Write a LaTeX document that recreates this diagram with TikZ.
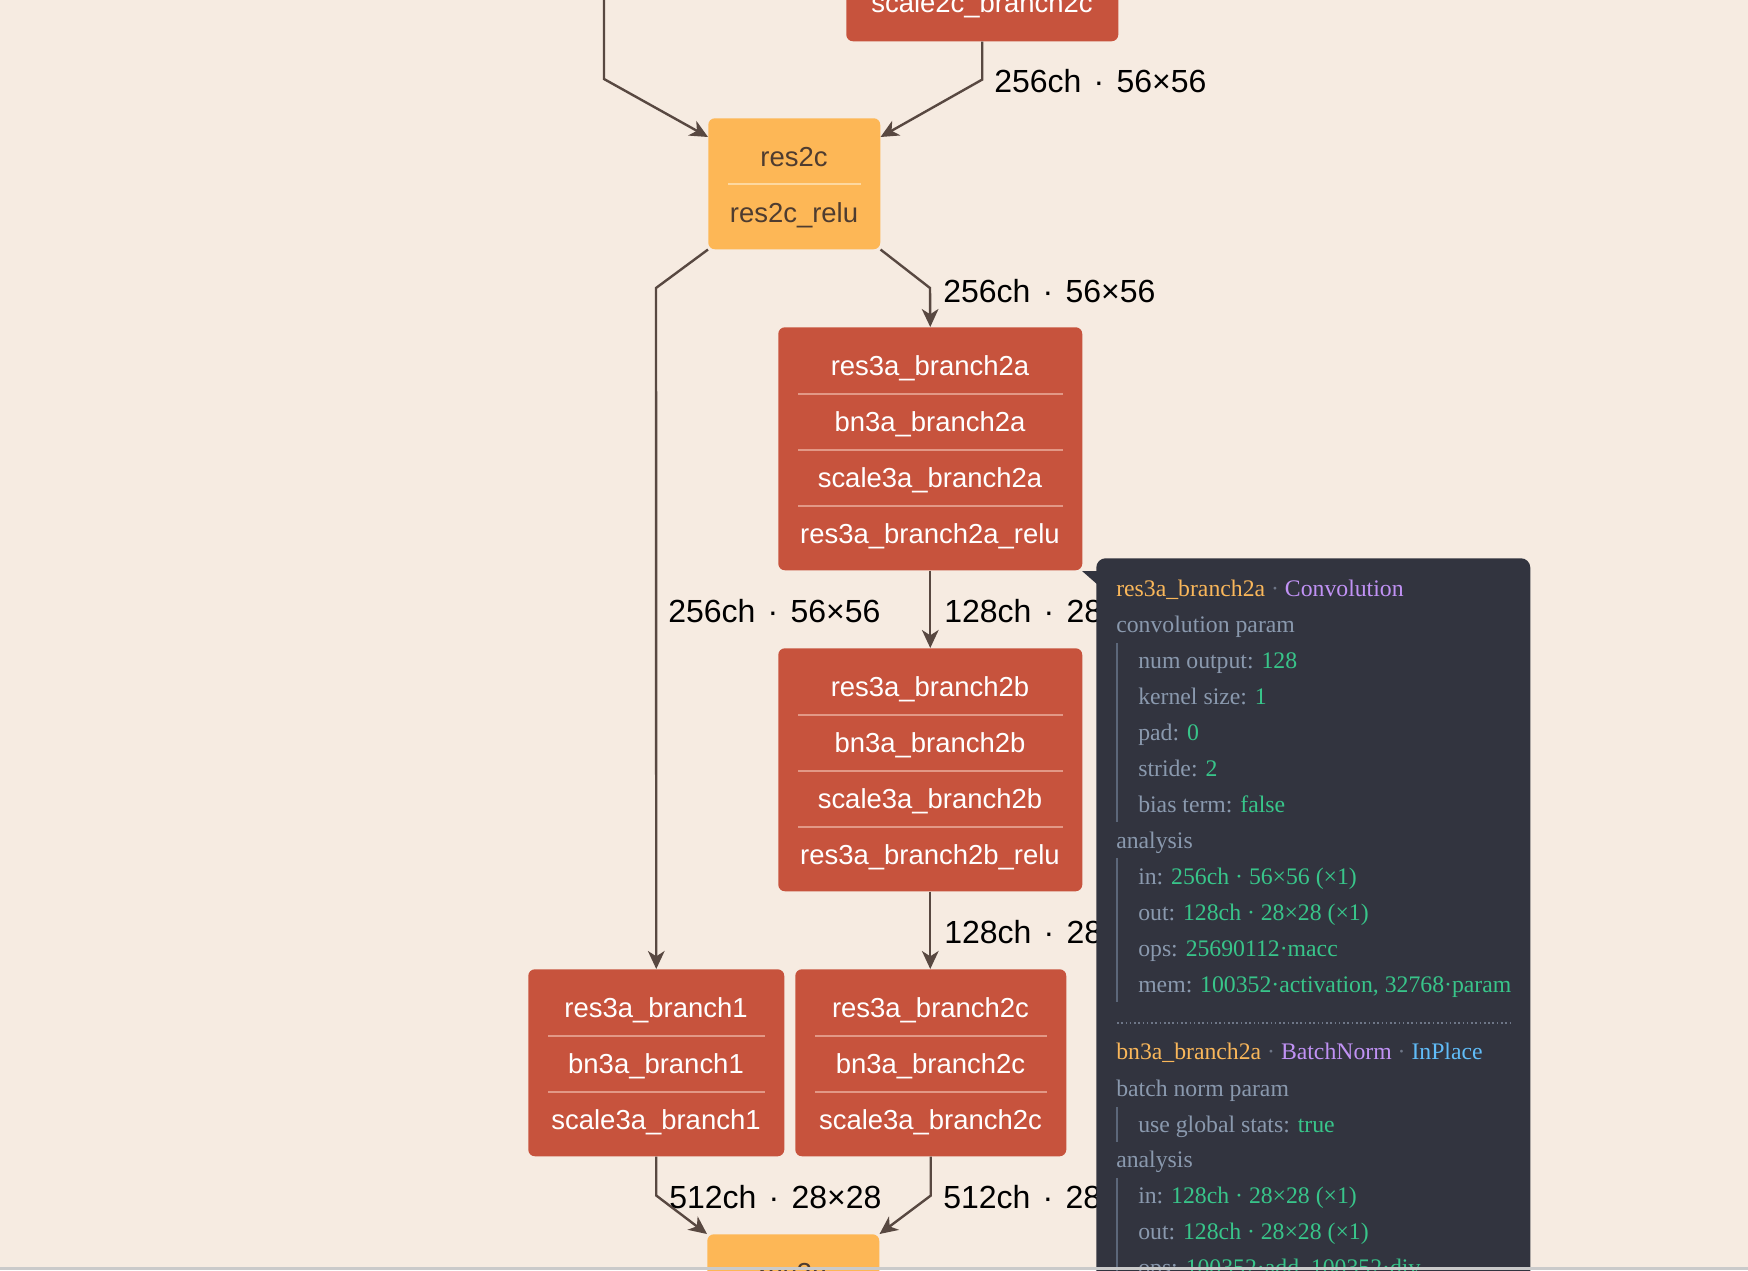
\documentclass[tikz,border=0pt]{standalone}
\usepackage{fontspec}
\setmainfont{Liberation Serif}
\newfontfamily\nodefont{Liberation Sans}
\usetikzlibrary{arrows.meta,calc}
\definecolor{bgc}{RGB}{246,235,225}
\definecolor{boxred}{RGB}{199,83,61}
\definecolor{boxorange}{RGB}{253,183,86}
\definecolor{sepred}{RGB}{226,152,134}
\definecolor{seporange}{RGB}{253,216,160}
\definecolor{orangetext}{RGB}{78,60,48}
\definecolor{connc}{RGB}{88,72,65}
\definecolor{ttbg}{RGB}{50,52,63}
\definecolor{ttgray}{RGB}{138,153,174}
\definecolor{ttgreen}{RGB}{56,197,138}
\definecolor{ttorange}{RGB}{250,183,90}
\definecolor{ttpurple}{RGB}{193,146,245}
\definecolor{ttblue}{RGB}{96,188,248}
\definecolor{ttdot}{RGB}{110,118,135}
\definecolor{ttbar}{RGB}{92,103,122}
\definecolor{bottombar}{RGB}{202,202,202}
\newcommand{\lsep}{\kern2.5pt\ ·\ \kern2.5pt}
\newcommand{\tdot}{{\color{ttdot}\ ·\ }}
\begin{document}
\begin{tikzpicture}[x=0.75pt,y=-0.75pt,
  redbox/.style={fill=boxred, draw=none, rounded corners=5pt, inner sep=0pt, anchor=north west},
  orangebox/.style={fill=boxorange, draw=none, rounded corners=5pt, inner sep=0pt, anchor=north west},
  redtxt/.style={text=white, inner sep=0pt, anchor=base, font=\nodefont\fontsize{20.6pt}{24pt}\selectfont},
  orangetxt/.style={text=orangetext, inner sep=0pt, anchor=base, font=\nodefont\fontsize{20.6pt}{24pt}\selectfont},
  sepr/.style={draw=sepred, line width=1.1pt},
  sepo/.style={draw=seporange, line width=1.1pt},
  conn/.style={draw=connc, line width=1.8pt, line join=miter, -{Stealth[length=13.5pt,width=12.5pt,inset=4pt]}},
  lbl/.style={text=black, inner sep=0pt, anchor=base west, font=\nodefont\fontsize{24pt}{28pt}\selectfont},
  tt/.style={text=ttgray, inner sep=0pt, anchor=base west, font=\fontsize{17.8pt}{22pt}\selectfont},
  ttbarline/.style={draw=ttbar, line width=1.5pt}
]
\useasboundingbox (0,0) rectangle (1748,1270);
\clip (0,0) rectangle (1748,1270);
\fill[bgc] (0,0) rectangle (1748,1270);

% ---- boxes ----
\node[redbox, minimum width=204pt, minimum height=140.25pt] (s2c) at (846,-146) {};
\node[redtxt] (s2ct) at (982,13) {scale2c\_branch2c};

\node[orangebox, minimum width=129pt, minimum height=98.25pt] (res2c) at (708,118) {};
\node[orangetxt] (res2ct1) at (794,166) {res2c};
\node[orangetxt] (res2ct2) at (794,222) {res2c\_relu};
\draw[sepo] ($(res2c.north west)+(20,66)$) -- ($(res2c.north east)+(-20,66)$);

\node[redbox, minimum width=228pt, minimum height=182.25pt] (b2a) at (778,327) {};
\node[redtxt] (b2at1) at (930,375) {res3a\_branch2a};
\node[redtxt] (b2at2) at (930,431) {bn3a\_branch2a};
\node[redtxt] (b2at3) at (930,487) {scale3a\_branch2a};
\node[redtxt] (b2at4) at (930,543) {res3a\_branch2a\_relu};
\foreach \s in {67,123,179}
  \draw[sepr] ($(b2a.north west)+(20,\s)$) -- ($(b2a.north east)+(-20,\s)$);

\node[redbox, minimum width=228pt, minimum height=182.25pt] (b2b) at (778,648) {};
\node[redtxt] (b2bt1) at (930,696) {res3a\_branch2b};
\node[redtxt] (b2bt2) at (930,752) {bn3a\_branch2b};
\node[redtxt] (b2bt3) at (930,808) {scale3a\_branch2b};
\node[redtxt] (b2bt4) at (930,864) {res3a\_branch2b\_relu};
\foreach \s in {67,123,179}
  \draw[sepr] ($(b2b.north west)+(20,\s)$) -- ($(b2b.north east)+(-20,\s)$);

\node[redbox, minimum width=192pt, minimum height=140.25pt] (b1) at (528,969) {};
\node[redtxt] (b1t1) at (656,1017) {res3a\_branch1};
\node[redtxt] (b1t2) at (656,1073) {bn3a\_branch1};
\node[redtxt] (b1t3) at (656,1129) {scale3a\_branch1};
\foreach \s in {67,123}
  \draw[sepr] ($(b1.north west)+(20,\s)$) -- ($(b1.north east)+(-20,\s)$);

\node[redbox, minimum width=203.25pt, minimum height=140.25pt] (b2c) at (795,969) {};
\node[redtxt] (b2ct1) at (930.5,1017) {res3a\_branch2c};
\node[redtxt] (b2ct2) at (930.5,1073) {bn3a\_branch2c};
\node[redtxt] (b2ct3) at (930.5,1129) {scale3a\_branch2c};
\foreach \s in {67,123}
  \draw[sepr] ($(b2c.north west)+(20,\s)$) -- ($(b2c.north east)+(-20,\s)$);

\node[orangebox, minimum width=129pt, minimum height=98.25pt] (res3a) at (707,1234) {};
\node[orangetxt] (res3at1) at (793,1282) {res3a};

% ---- connectors ----
\coordinate (topL) at (604,-5);
\draw[conn] (topL) -- (604,79) -- ($(res2c.north west)+(0,19)$);
\draw[conn] (s2c.south) -- ++(0,38) -- ($(res2c.north east)+(0,19)$);
\draw[conn] (res2c.south west) -- (656,288) -- (b1.north);
\draw[conn] (res2c.south east) -- (930,288) -- (b2a.north);
\draw[conn] (b2a.south) -- (b2b.north);
\draw[conn] (b2b.south) -- (b2b.south |- b2c.north);
\draw[conn] (b1.south) -- ++(0,39) -- (res3a.north west);
\draw[conn] (b2c.south) -- ++(0,39) -- (res3a.north east);

% ---- edge labels ----
\node[lbl] (l1) at (994,92.5) {256ch\lsep 56×56};
\node[lbl] (l2) at (943,302) {256ch\lsep 56×56};
\node[lbl] (l3) at (668,622) {256ch\lsep 56×56};
\node[lbl] (l4) at (944,622) {128ch\lsep 28×28};
\node[lbl] (l5) at (944,943) {128ch\lsep 28×28};
\node[lbl] (l6) at (669,1208) {512ch\lsep 28×28};
\node[lbl] (l7) at (943,1208) {512ch\lsep 28×28};

% ---- tooltip ----
\node[fill=ttbg, draw=none, rounded corners=7pt, inner sep=0pt, anchor=north west,
      minimum width=325.5pt, minimum height=560pt] (tip) at (1096,558) {};
\fill[ttbg] (1082,571) -- (1098,571) -- (1098,585) -- cycle;

\draw[ttbarline] (1117,643) -- (1117,822);
\draw[ttbarline] (1117,858) -- (1117,1002);
\draw[ttbarline] (1117,1107) -- (1117,1142);
\draw[ttbarline] (1117,1178) -- (1117,1290);
\draw[draw=ttdot, line width=1.2pt, dash pattern=on 1.2pt off 2pt] (1117,1023) -- (1510,1023);

\node[tt] (tt1) at (1116,596) {{\color{ttorange}res3a\_branch2a}\tdot{\color{ttpurple}Convolution}};
\node[tt] (tt2) at (1116,632) {convolution param};
\node[tt] (tt3) at (1138,668) {num output: {\color{ttgreen}128}};
\node[tt] (tt4) at (1138,704) {kernel size: {\color{ttgreen}1}};
\node[tt] (tt5) at (1138,740) {pad: {\color{ttgreen}0}};
\node[tt] (tt6) at (1138,776) {stride: {\color{ttgreen}2}};
\node[tt] (tt7) at (1138,812) {bias term: {\color{ttgreen}false}};
\node[tt] (tt8) at (1116,848) {analysis};
\node[tt] (tt9) at (1138,884) {in: {\color{ttgreen}256ch · 56×56 (×1)}};
\node[tt] (tt10) at (1138,920) {out: {\color{ttgreen}128ch · 28×28 (×1)}};
\node[tt] (tt11) at (1138,956) {ops: {\color{ttgreen}25690112·macc}};
\node[tt] (tt12) at (1138,992) {mem: {\color{ttgreen}100352·activation, 32768·param}};
\node[tt] (tt13) at (1116,1059) {{\color{ttorange}bn3a\_branch2a}\tdot{\color{ttpurple}BatchNorm}\tdot{\color{ttblue}InPlace}};
\node[tt] (tt14) at (1116,1096) {batch norm param};
\node[tt] (tt15) at (1138,1132) {use global stats: {\color{ttgreen}true}};
\node[tt] (tt16) at (1116,1167) {analysis};
\node[tt] (tt17) at (1138,1203) {in: {\color{ttgreen}128ch · 28×28 (×1)}};
\node[tt] (tt18) at (1138,1239) {out: {\color{ttgreen}128ch · 28×28 (×1)}};
\node[tt] (tt19) at (1138,1275) {ops: {\color{ttgreen}100352·add, 100352·div}};

% ---- bottom bar ----
\fill[bottombar] (0,1267) rectangle (1748,1270);
\end{tikzpicture}
\end{document}
